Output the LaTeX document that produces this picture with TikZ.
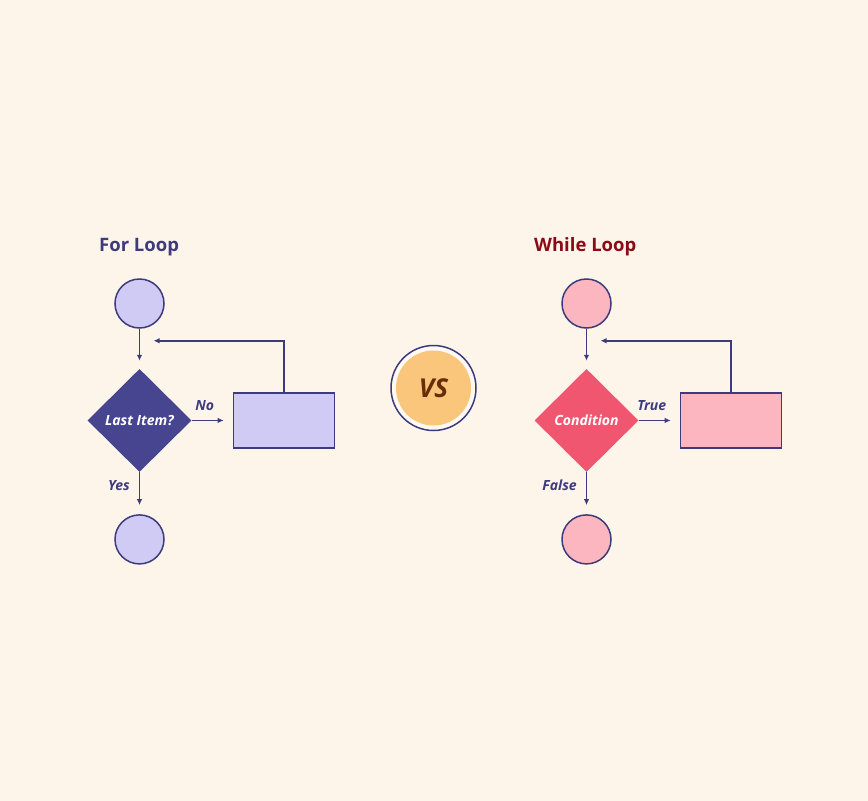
\documentclass[tikz,border=0pt]{standalone}
\usepackage{fontspec}
\setmainfont{Open Sans}
\usepackage{xcolor}
\usepackage{tikz}
\usetikzlibrary{positioning}
\usetikzlibrary{shapes.geometric}
\usetikzlibrary{calc}
\usetikzlibrary{arrows.meta}

\definecolor{bgcream}{HTML}{FEF5EA}
\definecolor{navy}{HTML}{3D3B7D}
\definecolor{lavender}{HTML}{CFCBF5}
\definecolor{indigo}{HTML}{47458F}
\definecolor{rosepink}{HTML}{FBB6BF}
\definecolor{coral}{HTML}{F0566F}
\definecolor{wine}{HTML}{8A0B16}
\definecolor{peach}{HTML}{F9C67C}
\definecolor{cocoa}{HTML}{6A2D08}

\begin{document}
\begin{tikzpicture}[
    x=1pt,y=1pt,
    node distance=40pt and 41pt,
    every node/.style={inner sep=0pt},
    termnode/.style={draw=navy,line width=1.5pt,circle,minimum size=49pt},
    decnode/.style={diamond,minimum width=104pt,minimum height=103pt,text=white,font=\fontsize{14}{16}\selectfont\bfseries\itshape},
    procnode/.style={draw=navy,line width=1.5pt,rectangle,minimum width=101pt,minimum height=55pt},
    flow/.style={draw=navy,line width=1.5pt,-{Latex[length=6pt,width=5.5pt]}},
    lbl/.style={text=navy,font=\fontsize{14}{16}\selectfont\bfseries\itshape,inner sep=3pt},
    heading/.style={anchor=west,font=\fontsize{18.5}{22}\selectfont\bfseries}
    ]

    \fill[bgcream] (0,0) rectangle (868,-801);
    \useasboundingbox (0,0) rectangle (868,-801);

    % for loop
    \node[heading,text=navy] (fortitle) at (99,-247) {For Loop};
    \node[termnode,fill=lavender] (fstart) at (139.5,-303.5) {};
    \node[decnode,fill=indigo,below=of fstart] (fdec) {Last Item?};
    \node[procnode,fill=lavender,right=of fdec] (fproc) {};
    \node[termnode,fill=lavender,below=42pt of fdec] (fend) {};

    \path (fstart) edge[flow,shorten >=8pt] (fdec)
    (fdec) edge[flow,shorten >=9pt] node[lbl,above,xshift=-7.5pt,yshift=6pt] {No} (fproc)
    (fdec) edge[flow,shorten >=9pt] node[lbl,left,xshift=-6pt,yshift=8pt] {Yes} (fend)
    ;
    \draw[flow] (fproc.north) |- ([xshift=14pt,yshift=-12pt]fstart.south);

    % vs badge
    \node[circle,draw=navy,line width=1.5pt,fill=bgcream!60!white,minimum size=85pt] (vsring) at (433.5,-388) {};
    \node[circle,fill=peach,minimum size=75pt,text=cocoa,font=\fontsize{26}{30}\selectfont\bfseries\itshape] (vs) at (vsring) {VS};

    % while loop
    \node[heading,text=wine] (whiletitle) at (534,-247) {While Loop};
    \node[termnode,fill=rosepink] (wstart) at (586.5,-303.5) {};
    \node[decnode,fill=coral,below=of wstart] (wdec) {Condition};
    \node[procnode,fill=rosepink,right=of wdec] (wproc) {};
    \node[termnode,fill=rosepink,below=42pt of wdec] (wend) {};

    \path (wstart) edge[flow,shorten >=8pt] (wdec)
    (wdec) edge[flow,shorten >=9pt] node[lbl,above,xshift=-7.5pt,yshift=6pt] {True} (wproc)
    (wdec) edge[flow,shorten >=9pt] node[lbl,left,xshift=-6pt,yshift=8pt] {False} (wend)
    ;
    \draw[flow] (wproc.north) |- ([xshift=14pt,yshift=-12pt]wstart.south);
  \end{tikzpicture}
\end{document}
